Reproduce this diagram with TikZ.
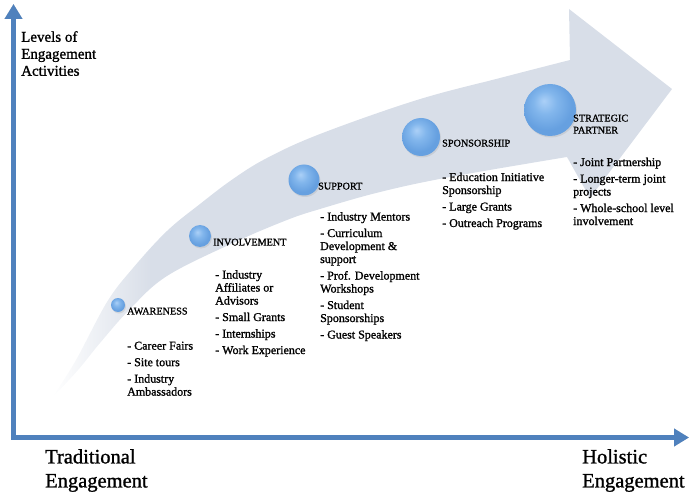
\documentclass[tikz,border=0pt]{standalone}
\usepackage{fontspec}
\setmainfont{Liberation Serif}[FakeBold=1.2]
\usetikzlibrary{arrows.meta,positioning,shadows}
\tikzset{>={Triangle[length=15pt,width=17pt]}}

\definecolor{axisblue}{HTML}{4F81BD}
\definecolor{bandgray}{HTML}{D8DEE8}
\definecolor{sphlight}{HTML}{ABD0F7}
\definecolor{sphmid}{HTML}{82B6EC}
\definecolor{sphdark}{HTML}{66A0E0}
\pgfdeclarehorizontalshading{bandshade}{100bp}{color(0bp)=(white); color(25bp)=(white); color(33bp)=(bandgray); color(100bp)=(bandgray)}
\pgfdeclareradialshading{sphere}{\pgfpoint{-6bp}{9bp}}{color(0bp)=(sphlight); color(11bp)=(sphmid); color(24bp)=(sphdark); color(25bp)=(sphdark); color(50bp)=(sphdark)}

\begin{document}
\begin{tikzpicture}[x=1pt,y=-1pt,
  level/.style={circle,inner sep=0pt,shading=sphere,drop shadow={opacity=.18,shadow xshift=1pt,shadow yshift=-1.5pt}},
  head/.style={anchor=north west,inner sep=0pt,align=left,font=\fontsize{10.2}{12}\selectfont},
  items/.style={anchor=north west,inner sep=0pt,align=left,font=\fontsize{12}{13}\selectfont},
  axislbl/.style={anchor=north west,inner sep=0pt,align=left}]
\useasboundingbox (0,0) rectangle (700,494);

% the curved band
\coordinate (tail) at (52,398);
\coordinate (barbup) at (569,9);
\coordinate (tip) at (672,89);
\coordinate (barblow) at (590,198);
\shade[shading=bandshade] (tail)
  -- plot[smooth,tension=.6] coordinates {(52,398) (76,360) (107,302) (133,268) (167,231) (200,204) (233,179) (267,158) (320,134) (417,100) (500,78) (570,60)}
  -- (barbup) -- (tip) -- (barblow)
  -- plot[smooth,tension=.6] coordinates {(567,157) (450,177) (380,192) (320,209) (287,220) (233,243) (167,276) (130,309) (100,343) (78,370) (52,398)}
  -- cycle;

% axes
\coordinate (origin) at (13.5,437.5);
\coordinate (ytip) at (13.5,4);
\coordinate (xtip) at (689,437.5);
\draw[black!20,line width=5pt,<->,xshift=1.5pt,yshift=-1.5pt] (ytip) -- (origin) -- (xtip);
\draw[axisblue,line width=5pt,<->] (ytip) -- (origin) -- (xtip);

\node[axislbl,font=\fontsize{15}{17}\selectfont] (ylbl) at (21,31) {Levels of\\Engagement\\Activities};
\node[axislbl,font=\fontsize{20.5}{24}\selectfont] (xlow) at (45,449) {Traditional\\Engagement};
\node[axislbl,font=\fontsize{20.5}{24}\selectfont] (xhigh) at (582,449) {Holistic\\Engagement};

% levels
\node[level,minimum size=14pt] (aware) at (118,305) {};
\node[level,minimum size=22pt] (involve) at (200,236) {};
\node[level,minimum size=31pt] (support) at (304,180) {};
\node[level,minimum size=38pt] (sponsor) at (421,137) {};
\node[level,minimum size=52pt] (partner) at (550,110) {};

\node[head] (awarelbl) at (127,307.5) {AWARENESS};
\node[head] (involvelbl) at (213,238.5) {INVOLVEMENT};
\node[head] (supportlbl) at (318,182.5) {SUPPORT};
\node[head] (sponsorlbl) at (442,139.5) {SPONSORSHIP};
\node[head] (partnerlbl) at (573,114.5) {STRATEGIC\\PARTNER};

\node[items] (awarelist) at (127,341.5) {- Career Fairs\\[3.5pt]- Site tours\\[3.5pt]- Industry\\Ambassadors};
\node[items] (involvelist) at (215,270) {- Industry\\Affiliates or\\Advisors\\[3.5pt]- Small Grants\\[3.5pt]- Internships\\[3.5pt]- Work Experience};
\node[items] (supportlist) at (320,212) {- Industry Mentors\\[3.5pt]- Curriculum\\Development \&\\support\\[3.5pt]- Prof. Development\\Workshops\\[3.5pt]- Student\\Sponsorships\\[3.5pt]- Guest Speakers};
\node[items] (sponsorlist) at (442,172.5) {- Education Initiative\\Sponsorship\\[3.5pt]- Large Grants\\[3.5pt]- Outreach Programs};
\node[items] (partnerlist) at (573,157.5) {- Joint Partnership\\[3.5pt]- Longer-term joint\\projects\\[3.5pt]- Whole-school level\\involvement};
\end{tikzpicture}
\end{document}
